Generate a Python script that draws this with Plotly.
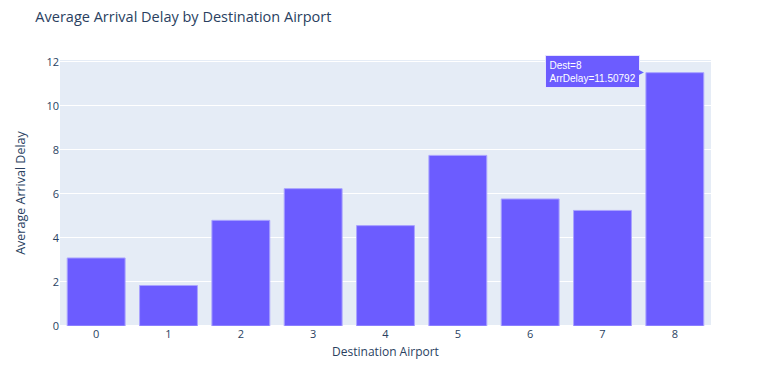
import plotly.graph_objects as go

dest = [0, 1, 2, 3, 4, 5, 6, 7, 8]
arr_delay = [3.09, 1.84, 4.80, 6.24, 4.56, 7.75, 5.77, 5.25, 11.50792]

bar_color = "#6C5CFF"

fig = go.Figure(go.Bar(x=dest, y=arr_delay, marker=dict(color=bar_color, line=dict(color="#A9A3FF", width=1))))

fig.update_layout(
    template="plotly",
    width=760, height=368,
    margin=dict(l=52, r=57, t=52, b=50, autoexpand=False),
    font=dict(family="Open Sans, verdana, arial, sans-serif", size=11, color="#2a3f5f"),
    title=dict(text="Average Arrival Delay by Destination Airport", x=0.036, xanchor="left",
               xref="container", y=0.975, yanchor="middle", font=dict(size=14.5)),
    xaxis=dict(title=dict(text="Destination Airport", font=dict(size=12), standoff=7), automargin=False,
               tickmode="array", tickvals=dest, ticktext=[str(d) for d in dest]),
    yaxis=dict(title=dict(text="Average Arrival Delay", font=dict(size=12.5), standoff=18), automargin=False,
               dtick=2, range=[0, max(arr_delay) * 1.05]),
    showlegend=False,
)

fig.add_annotation(
    x=dest[-1], y=arr_delay[-1], xref="x", yref="y",
    text=f"Dest={dest[-1]}<br>ArrDelay={arr_delay[-1]}",
    showarrow=False, xanchor="right", yanchor="middle", xshift=-35, yshift=1, align="left",
    font=dict(family="Arial", size=10, color="white"),
    bgcolor=bar_color, bordercolor="#E6E3FF", borderwidth=1, borderpad=3.5,
)
fig.add_annotation(
    x=dest[-1], y=arr_delay[-1], xref="x", yref="y", text="▶",
    showarrow=False, xanchor="right", yanchor="middle", xshift=-29, yshift=1,
    font=dict(family="DejaVu Sans", size=10, color=bar_color),
)

fig.write_html("out.html")
